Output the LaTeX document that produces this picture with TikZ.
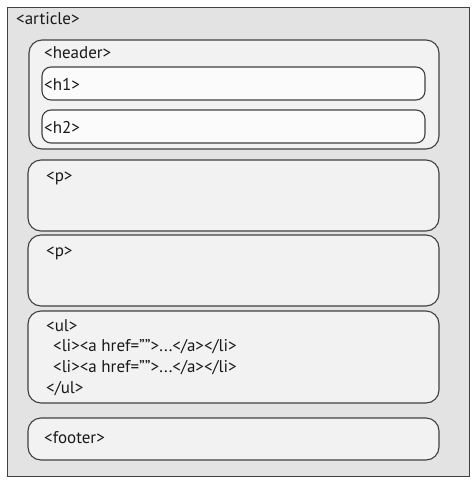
\documentclass[tikz,border=0pt]{standalone}
\usepackage{fontspec}
\setmainfont{PT Sans}
\begin{document}
\begin{tikzpicture}[x=1pt,y=-1pt,
  box/.style={draw=black!75,line width=1.1pt,rounded corners=13pt,fill=black!5},
  inbox/.style={draw=black!75,line width=1.1pt,rounded corners=9pt,fill=black!1.5},
  lbl/.style={anchor=west,inner sep=0pt,font=\fontsize{17}{19}\selectfont,text=black!90}]
\useasboundingbox (0,0) rectangle (474,483);
\fill[white] (0,0) rectangle (474,483);
\node[draw=black!75,line width=1.1pt,fill=black!11,minimum width=462pt,minimum height=469pt,anchor=north west,inner sep=0pt] (article) at (7,7) {};
\node[lbl] (tarticle) at (16,19) {<article>};
% header
\draw[box] (29,40) rectangle (439,149);
\node[lbl] (theader) at (44,53) {<header>};
\draw[inbox] (42,67) rectangle (425,100);
\node[lbl] (th1) at (44,84) {<h1>};
\draw[inbox] (42,110) rectangle (425,143);
\node[lbl] (th2) at (44,127) {<h2>};
% paragraphs
\draw[box] (28,160) rectangle (439,231);
\node[lbl] (tp1) at (46,178) {<p>};
\draw[box] (28,235) rectangle (439,306);
\node[lbl] (tp2) at (46,253) {<p>};
% list
\draw[box] (28,311) rectangle (439,403);
\node[lbl] (tul) at (46,326) {<ul>};
\node[lbl] (tli1) at (53,347) {<li><a href="">...</a></li>};
\node[lbl] (tli2) at (53,368) {<li><a href="">...</a></li>};
\node[lbl] (tulend) at (46,389) {</ul>};
% footer
\draw[box] (28,418) rectangle (439,460);
\node[lbl] (tfooter) at (44,438) {<footer>};
\end{tikzpicture}
\end{document}
